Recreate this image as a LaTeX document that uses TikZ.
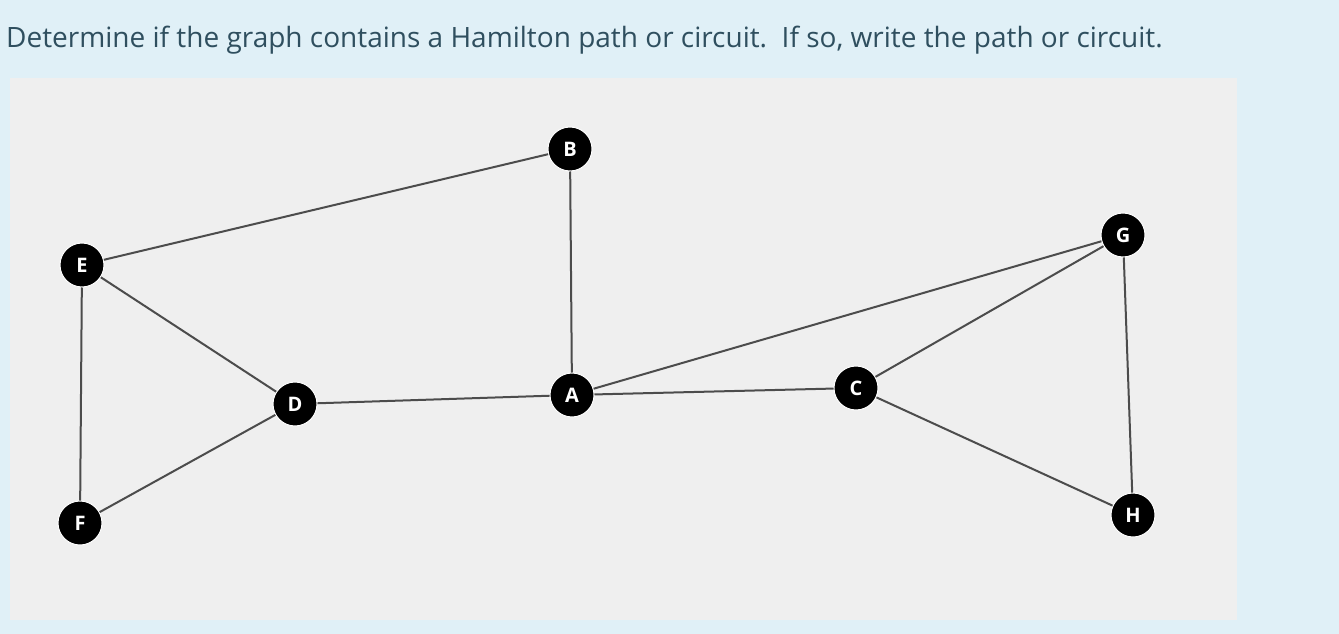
\documentclass[tikz,border=0pt]{standalone}
\usepackage{fontspec}
\setmainfont{Open Sans}
\definecolor{bgblue}{HTML}{E0F0F7}
\definecolor{panel}{HTML}{EFEFEF}
\definecolor{titlec}{HTML}{2F4F5F}
\begin{document}
\begin{tikzpicture}[x=1pt,y=-1pt,
  vtx/.style={circle,fill=black,draw=white,line width=1pt,minimum size=44pt,inner sep=0pt,text=white,font=\fontsize{20}{20}\selectfont\bfseries},
  edge/.style={draw=black!70,line width=2pt}]
\fill[bgblue] (0,0) rectangle (1339,634);
\useasboundingbox (0,0) rectangle (1339,634);
\fill[panel] (10,78) rectangle (1237,620);
\node[anchor=west,text=titlec,font=\fontsize{28}{28}\selectfont,inner sep=0pt] (title) at (6,40) {Determine if the graph contains a Hamilton path or circuit.\ \ If so, write the path or circuit.};
\node[vtx] (B) at (570,149) {B};
\node[vtx] (E) at (82,265) {E};
\node[vtx] (G) at (1123,235) {G};
\node[vtx] (D) at (295,404) {D};
\node[vtx] (A) at (572,395) {A};
\node[vtx] (C) at (856,388) {C};
\node[vtx] (F) at (80,523) {F};
\node[vtx] (H) at (1133,515) {H};
\begin{scope}[on background layer/.try]
\end{scope}
\foreach \a/\b in {E/B,B/A,E/D,E/F,F/D,D/A,A/C,A/G,C/G,G/H,C/H}
  \draw[edge] (\a) -- (\b);
\end{tikzpicture}
\end{document}
